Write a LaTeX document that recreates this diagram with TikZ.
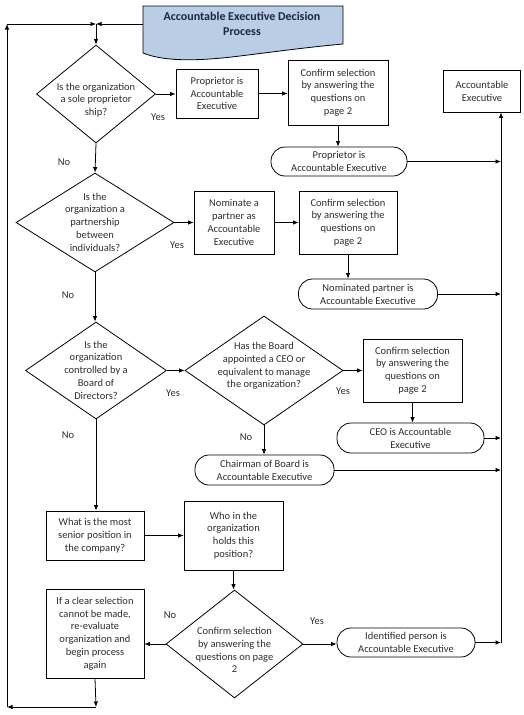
\documentclass[tikz,border=0pt]{standalone}
\usepackage{fontspec}
\setmainfont{Carlito}
\usetikzlibrary{shapes.geometric,arrows.meta}
\definecolor{titleblue}{RGB}{185,205,229}
\definecolor{ink}{RGB}{45,45,45}
\definecolor{titleink}{RGB}{28,38,66}
\begin{document}
\begin{tikzpicture}[x=1pt,y=-1pt,
  font=\fontsize{10.5}{12.8}\selectfont,
  every node/.style={text=ink},
  box/.style={draw=black,line width=0.8pt,rectangle,inner sep=0pt,align=center},
  term/.style={draw=black,line width=0.8pt,rectangle,rounded corners=14pt,inner sep=0pt,align=center},
  dia/.style={draw=black,line width=0.8pt,diamond,inner sep=0pt},
  txt/.style={align=center,inner sep=0pt},
  lbl/.style={inner sep=0pt},
  arr/.style={-{Latex[length=5.5pt,width=4.5pt]},line width=0.8pt},
  ln/.style={line width=0.8pt}]
\useasboundingbox (0,0) rectangle (524,715);

% title
\draw[ln,fill=titleblue] (143,6) -- (343,6) -- (343,44)
  .. controls (310,47) and (280,51) .. (240,56)
  .. controls (200,61) and (165,62) .. (143,53) -- cycle;
\node[txt,text=titleink,font=\bfseries\fontsize{12}{15.5}\selectfont] (title) at (242,24) {Accountable Executive Decision\\Process};
\coordinate (tl) at (143,24);
\coordinate (m) at (96,24);

% row 1
\node[dia,minimum width=119pt,minimum height=98pt] (d1) at (96,94) {};
\node[txt] (d1t) at (96,100) {Is the organization\\a sole proprietor\\ship?};
\node[box,minimum width=82pt,minimum height=49pt] (b1) at (217,93.5) {Proprietor is\\Accountable\\Executive};
\node[box,minimum width=100pt,minimum height=65pt] (c1) at (338,92.5) {Confirm selection\\by answering the\\questions on\\page 2};
\node[term,minimum width=136pt,minimum height=29pt] (t1) at (339,161.5) {Proprietor is\\Accountable Executive};
\node[box,minimum width=77pt,minimum height=42pt] (ae) at (482,91) {Accountable\\Executive};
\node[lbl] (y1) at (158,117) {Yes};
\node[lbl] (n1) at (64,162) {No};

% row 2
\node[dia,minimum width=158pt,minimum height=99pt] (d2) at (95,222.5) {};
\node[txt] (d2t) at (95,222) {Is the\\organization a\\partnership\\between\\individuals?};
\node[box,minimum width=80pt,minimum height=63pt] (b2) at (234,222.5) {Nominate a\\partner as\\Accountable\\Executive};
\node[box,minimum width=98pt,minimum height=63pt] (c2) at (348,222.5) {Confirm selection\\by answering the\\questions on\\page 2};
\node[term,minimum width=139pt,minimum height=30pt] (t2) at (368,294) {Nominated partner is\\Accountable Executive};
\node[lbl] (y2) at (177,245) {Yes};
\node[lbl] (n2) at (68,295) {No};

% row 3
\node[dia,minimum width=141pt,minimum height=97pt] (d3) at (96,370.5) {};
\node[txt] (d3t) at (96,370) {Is the\\organization\\controlled by a\\Board of\\Directors?};
\node[dia,minimum width=158pt,minimum height=109pt] (d4) at (264,370.5) {};
\node[txt] (d4t) at (264,366) {Has the Board\\appointed a CEO or\\equivalent to manage\\the organization?};
\node[box,minimum width=99pt,minimum height=63pt] (c3) at (412.5,370.5) {Confirm selection\\by answering the\\questions on\\page 2};
\node[term,minimum width=147pt,minimum height=30pt] (t3) at (410.5,438) {CEO is Accountable\\Executive};
\node[term,minimum width=139pt,minimum height=30pt] (t4) at (264.5,470) {Chairman of Board is\\Accountable Executive};
\node[lbl] (y3) at (173,393) {Yes};
\node[lbl] (y4) at (343,391) {Yes};
\node[lbl] (n3) at (68,435) {No};
\node[lbl] (n4) at (246,437) {No};

% row 4
\node[box,minimum width=98pt,minimum height=49pt] (b3) at (95,535.5) {What is the most\\senior position in\\the company?};
\node[box,minimum width=99pt,minimum height=69pt] (b4) at (233.5,535.5) {Who in the\\organization\\holds this\\position?};

% row 5
\node[dia,minimum width=137pt,minimum height=108pt] (d5) at (234.5,644) {};
\node[txt] (d5t) at (234.5,650) {Confirm selection\\by answering the\\questions on page\\2};
\node[term,minimum width=138pt,minimum height=29pt] (t5) at (406,642.5) {Identified person is\\Accountable Executive};
\node[box,minimum width=98pt,minimum height=89pt] (b5) at (95,633.5) {If a clear selection\\cannot be made,\\re-evaluate\\organization and\\begin process\\again};
\node[lbl] (y5) at (317,621) {Yes};
\node[lbl] (n5) at (170,615) {No};

% loop coordinates
\coordinate (r5) at (501,643);
\coordinate (bl) at (96,707);
\coordinate (bll) at (7,707);
\coordinate (tll) at (7,24);

% connectors
\draw[arr] (tl) -- (m);
\draw[arr] (tll) -- (m);
\draw[arr] (m) -- (d1.north);
\draw[arr] (d1.east) -- (b1.west |- d1.east);
\draw[arr] (b1.east) -- (c1.west |- b1.east);
\draw[arr] (c1.south) -- (c1.south |- t1.north);
\draw[arr] (t1.east) -- (t1.east -| r5);
\draw[arr] (d1.south) -- (d2.north);

\draw[arr] (d2.east) -- (b2.west |- d2.east);
\draw[arr] (b2.east) -- (c2.west |- b2.east);
\draw[arr] (c2.south) -- (c2.south |- t2.north);
\draw[arr] (t2.east) -- (t2.east -| r5);
\draw[arr] (d2.south) -- (d2.south |- d3.north);

\draw[arr] (d3.east) -- (d4.west);
\draw[arr] (d4.east) -- (c3.west |- d4.east);
\draw[arr] (c3.south) -- (c3.south |- t3.north);
\draw[arr] (t3.east) -- (t3.east -| r5);
\draw[arr] (d4.south) -- (d4.south |- t4.north);
\draw[arr] (t4.east) -- (t4.east -| r5);
\draw[arr] (d3.south) -- (d3.south |- b3.north);

\draw[arr] (b3.east) -- (b4.west);
\draw[arr] (b4.south) -- (b4.south |- d5.north);
\draw[arr] (d5.west) -- (d5.west -| b5.east);
\draw[arr] (d5.east) -- (d5.east -| t5.west);
\draw[arr] (t5.east) -- (t5.east -| r5);
\draw[arr] (r5) -- (r5 |- ae.south);

\draw[arr] (b5.south) -- (bl);
\draw[arr] (bl) -- (bll);
\draw[arr] (bll) -- (tll);
\end{tikzpicture}
\end{document}
